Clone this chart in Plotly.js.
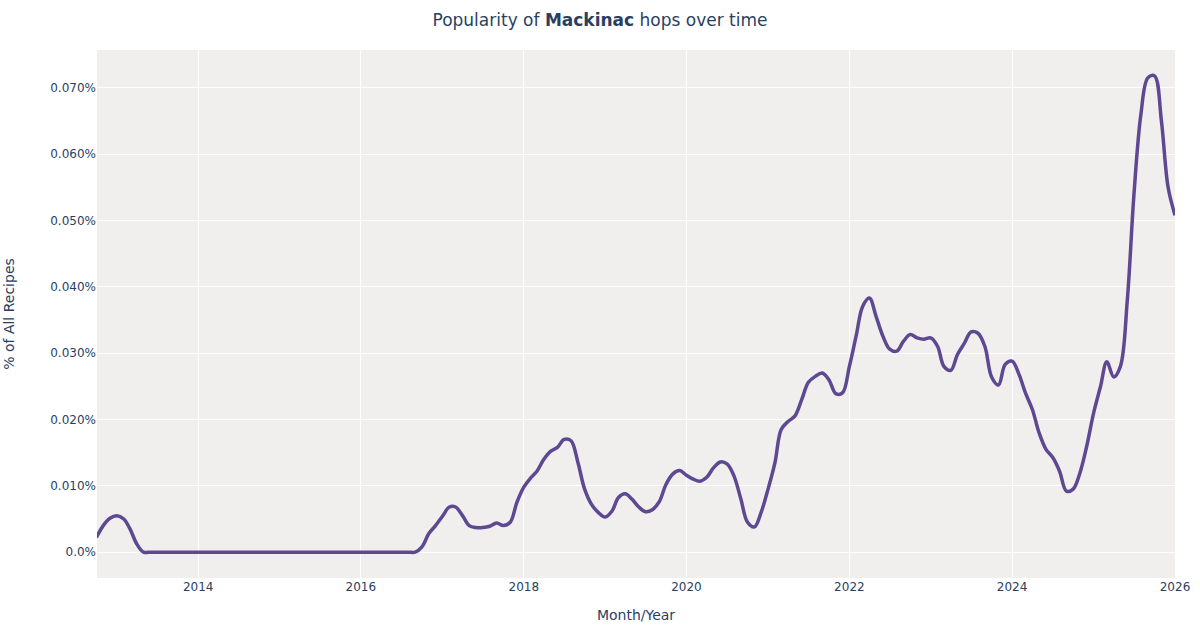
<!DOCTYPE html>
<html>
<head>
<meta charset="utf-8">
<script src="https://cdn.plot.ly/plotly-3.0.1.min.js"></script>
<style>
  html, body { margin: 0; padding: 0; background: #fff; }
  #chart { width: 1200px; height: 630px; }
</style>
</head>
<body>
<div id="chart"></div>
<script>
// Monthly share of recipes using Mackinac hops (percent of all recipes)
const startMonth = '2012-10';

const shareLeading = [0.0022, 0.0040, 0.0051, 0.0055, 0.0050, 0.0035, 0.0012];
// months with no recorded use, May 2013 through Sep 2016
const zeroMonths = 41;
const shareRecent = [
  // 2016-10 .. 2016-12
  0.0008, 0.0028, 0.0040,
  // 2017
  0.0054, 0.0068, 0.0068, 0.0055, 0.0040, 0.0037, 0.0037, 0.0039, 0.0044, 0.0040, 0.0045, 0.0075,
  // 2018
  0.0098, 0.0112, 0.0122, 0.0140, 0.0152, 0.0158, 0.0170, 0.0168, 0.0135, 0.0095, 0.0072, 0.0060,
  // 2019
  0.0053, 0.0062, 0.0082, 0.0088, 0.0080, 0.0068, 0.0061, 0.0064, 0.0076, 0.0102, 0.0118, 0.0123,
  // 2020
  0.0116, 0.0110, 0.0107, 0.0113, 0.0127, 0.0136, 0.0133, 0.0115, 0.0080, 0.0045, 0.0038, 0.0060,
  // 2021
  0.0095, 0.0135, 0.0185, 0.0197, 0.0205, 0.0230, 0.0256, 0.0265, 0.0270, 0.0260, 0.0239, 0.0240,
  // 2022
  0.0280, 0.0327, 0.0370, 0.0383, 0.0355, 0.0325, 0.0306, 0.0303, 0.0318, 0.0328, 0.0323, 0.0321,
  // 2023
  0.0323, 0.0310, 0.0280, 0.0274, 0.0298, 0.0315, 0.0332, 0.0330, 0.0310, 0.0264, 0.0252, 0.0283,
  // 2024
  0.0288, 0.0268, 0.0240, 0.0215, 0.0180, 0.0155, 0.0143, 0.0122, 0.0092, 0.0095, 0.0120, 0.0160,
  // 2025
  0.0210, 0.0250, 0.0287, 0.0264, 0.0280, 0.0380, 0.0540, 0.0660, 0.0715, 0.0718, 0.0650, 0.0550,
  // 2026-01
  0.0508
];

const yTickValues = [0, 0.01, 0.02, 0.03, 0.04, 0.05, 0.06, 0.07];
const yTickLabels = ['0.0%', '0.010%', '0.020%', '0.030%', '0.040%', '0.050%', '0.060%', '0.070%'];

const shareValues = shareLeading
  .concat(new Array(zeroMonths).fill(0))
  .concat(shareRecent);

// build month labels (YYYY-MM-01) starting from startMonth
const months = [];
let [yy, mm] = startMonth.split('-').map(Number);
for (let i = 0; i < shareValues.length; i++) {
  months.push(yy + '-' + String(mm).padStart(2, '0') + '-01');
  mm += 1;
  if (mm > 12) { mm = 1; yy += 1; }
}

const trace = {
  x: months,
  y: shareValues,
  type: 'scatter',
  mode: 'lines',
  line: { color: 'rgb(94,72,145)', width: 3.5, shape: 'spline', smoothing: 1 },
  hoverinfo: 'x+y'
};

const layout = {
  width: 1200,
  height: 630,
  margin: { l: 97, r: 25, t: 50, b: 52 },
  paper_bgcolor: '#ffffff',
  plot_bgcolor: 'rgb(240,239,237)',
  font: { family: '"DejaVu Sans", verdana, arial, sans-serif', size: 12, color: '#2a3f5f' },
  title: {
    text: 'Popularity of <b>Mackinac</b> hops over time',
    x: 0.5,
    xanchor: 'center',
    y: 0.968,
    yanchor: 'middle',
    font: { size: 17, color: '#2a3f5f' }
  },
  xaxis: {
    type: 'date',
    range: ['2012-10-04', '2026-01-01'],
    title: { text: 'Month/Year', font: { size: 14 }, standoff: 17 },
    gridcolor: '#ffffff',
    gridwidth: 1,
    zeroline: false,
    showline: false,
    ticks: ''
  },
  yaxis: {
    range: [-0.0039, 0.0757],
    tickvals: yTickValues,
    ticktext: yTickLabels,
    title: { text: '% of All Recipes', font: { size: 14 }, standoff: 32 },
    gridcolor: '#ffffff',
    gridwidth: 1,
    zeroline: false,
    showline: false,
    ticks: ''
  },
  showlegend: false
};

Plotly.newPlot('chart', [trace], layout, { displayModeBar: false, staticPlot: true });
</script>
</body>
</html>
